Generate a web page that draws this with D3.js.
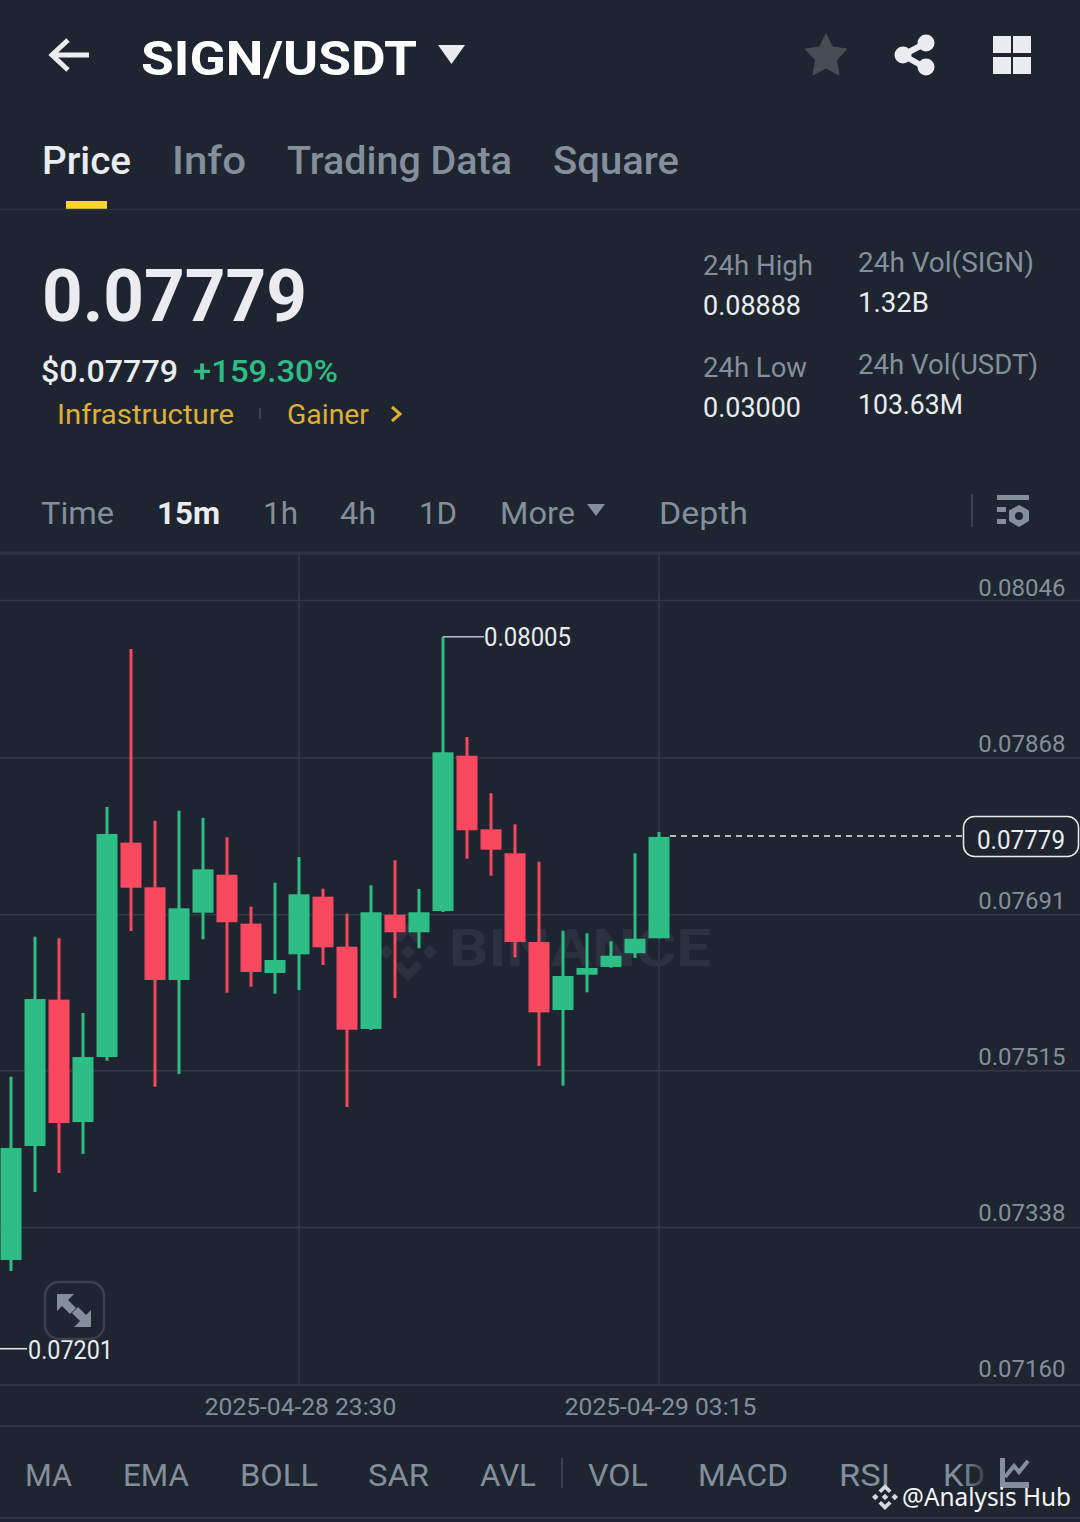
<!DOCTYPE html>
<html><head><meta charset="utf-8">
<script src="https://cdn.jsdelivr.net/npm/d3@7"></script>
<style>
html,body{margin:0;padding:0;background:#1e2530;overflow:hidden}
svg{display:block}
text{font-family:Roboto,"Noto Sans",sans-serif}
</style></head><body>
<div id="chart"></div>
<script>
const times=["2025-04-28 20:30","2025-04-28 20:45","2025-04-28 21:00","2025-04-28 21:15","2025-04-28 21:30","2025-04-28 21:45","2025-04-28 22:00","2025-04-28 22:15","2025-04-28 22:30","2025-04-28 22:45","2025-04-28 23:00","2025-04-28 23:15","2025-04-28 23:30","2025-04-28 23:45","2025-04-29 00:00","2025-04-29 00:15","2025-04-29 00:30","2025-04-29 00:45","2025-04-29 01:00","2025-04-29 01:15","2025-04-29 01:30","2025-04-29 01:45","2025-04-29 02:00","2025-04-29 02:15","2025-04-29 02:30","2025-04-29 02:45","2025-04-29 03:00","2025-04-29 03:15"];
const opens=[0.073012,0.074299,0.075952,0.074570,0.075304,0.077725,0.077221,0.076174,0.076934,0.077363,0.076810,0.076253,0.076464,0.077115,0.076550,0.075621,0.076911,0.076713,0.076953,0.078707,0.077876,0.077605,0.076603,0.075835,0.076234,0.076321,0.076476,0.076645];
const highs=[0.075082,0.076663,0.076645,0.075801,0.078128,0.079912,0.077973,0.078086,0.078004,0.077786,0.077002,0.077273,0.077563,0.077205,0.076923,0.077244,0.077526,0.077202,0.080050,0.078918,0.078283,0.077932,0.077510,0.076731,0.076701,0.076611,0.077605,0.077846];
const lows=[0.072888,0.073780,0.073994,0.074209,0.075263,0.076727,0.074969,0.075112,0.076634,0.076031,0.076098,0.076019,0.076061,0.076343,0.074740,0.075609,0.075971,0.076532,0.076942,0.077544,0.077352,0.076430,0.075203,0.074980,0.076035,0.076313,0.076423,0.076645];
const closes=[0.074277,0.075959,0.074559,0.075304,0.077823,0.077216,0.076174,0.076984,0.077424,0.076826,0.076264,0.076400,0.077142,0.076543,0.075613,0.076939,0.076713,0.076939,0.078746,0.077865,0.077646,0.076603,0.075809,0.076219,0.076310,0.076448,0.076640,0.077790];
const priceTicks=[0.08046,0.07868,0.07691,0.07515,0.07338,0.07160];
const timeTicks=["2025-04-28 23:30","2025-04-29 03:15"];
const lastPrice=0.07779, peakPrice=0.08005, troughPrice=0.07201;

const W=1080,H=1522;
const C={bg:"#1e2530",grid:"#333a46",line:"#2d343f",up:"#2ebd85",down:"#f84960",muted:"#848e9c",white:"#eaecef",yellow:"#fcd535",gold:"#dfae35",star:"#474d57"};
const parse=d3.timeParse("%Y-%m-%d %H:%M");
const svg=d3.select("#chart").append("svg").attr("width",W).attr("height",H).attr("viewBox",[0,0,W,H]);
svg.append("rect").attr("width",W).attr("height",H).attr("fill",C.bg);

function label(x,y,s,size,fill,weight,width,anchor){
  const t=svg.append("text").attr("x",x-1).attr("y",y).text(s).attr("font-size",size).attr("fill",fill).attr("font-weight",weight||400).attr("text-anchor",anchor||"start");
  if(width) t.attr("textLength",width+1).attr("lengthAdjust","spacingAndGlyphs");
  return t;
}
function hr(y,w,c){svg.append("line").attr("x1",0).attr("x2",W).attr("y1",y).attr("y2",y).attr("stroke",c||C.line).attr("stroke-width",w||1.5);}
function binanceLogo(cx,cy,R,fill){
  const pts=[
    [[0,-1],[.5,-.5],[.3,-.3],[0,-.6],[-.3,-.3],[-.5,-.5]],
    [[0,1],[.5,.5],[.3,.3],[0,.6],[-.3,.3],[-.5,.5]],
    [[-1,0],[-.75,-.25],[-.5,0],[-.75,.25]],
    [[1,0],[.75,-.25],[.5,0],[.75,.25]],
    [[0,-.25],[.25,0],[0,.25],[-.25,0]]
  ];
  svg.append("g").attr("fill",fill).selectAll("path").data(pts).join("path")
    .attr("d",p=>"M"+p.map(q=>`${cx+q[0]*R} ${cy+q[1]*R}`).join("L")+"Z");
}

// header
svg.append("path").attr("d","M89 55H53M68 40L52 55L68 70").attr("fill","none").attr("stroke",C.white).attr("stroke-width",5);
label(142,75,"SIGN/USDT",49,"#fff",700,275);
svg.append("path").attr("d","M438 45H465L451.5 64Z").attr("fill",C.white);
svg.append("path").attr("d","M826 34L832.5 47L847 49L836.5 60L839 75L826 68L813 75L815.5 60L805 49L819.5 47Z").attr("fill",C.star).attr("stroke",C.star).attr("stroke-width",1).attr("stroke-linejoin","round");
svg.append("path").attr("d","M926 43L903 55L926 68").attr("fill","none").attr("stroke",C.white).attr("stroke-width",6);
[[926,43,8.5],[903,55,8.5],[926,67,8.5]].forEach(c=>svg.append("circle").attr("cx",c[0]).attr("cy",c[1]).attr("r",c[2]).attr("fill",C.white));
[[993,36],[1013,36],[993,57],[1013,57]].forEach(p=>svg.append("rect").attr("x",p[0]).attr("y",p[1]).attr("width",18).attr("height",17).attr("fill",C.white));

// tabs
label(43,174,"Price",38,C.white,500,88);
label(173,174,"Info",38,C.muted,500,73);
label(288,174,"Trading Data",38,C.muted,500,224);
label(554,174,"Square",38,C.muted,500,125);
svg.append("rect").attr("x",66).attr("y",201).attr("width",41).attr("height",8).attr("fill",C.yellow);
hr(209.5,1.5);

// stats
label(43,321,"0.07779",72,C.white,700,264);
label(42,382,"$0.07779",32,C.white,500,136);
label(194,382,"+159.30%",32,C.up,500,144);
label(58,424,"Infrastructure",28,C.gold,400,176);
svg.append("line").attr("x1",260).attr("x2",260).attr("y1",408).attr("y2",419).attr("stroke","#3a414d").attr("stroke-width",2);
label(288,424,"Gainer",28,C.gold,400,81);
svg.append("path").attr("d","M392 407L400 414L392 421").attr("fill","none").attr("stroke",C.gold).attr("stroke-width",3);
label(704,275,"24h High",28,C.muted,400,109);
label(704,315,"0.08888",27,C.white,400,97);
label(859,272,"24h Vol(SIGN)",28,C.muted,400,175);
label(859,312,"1.32B",27,C.white,400,70);
label(704,377,"24h Low",28,C.muted,400,103);
label(704,417,"0.03000",27,C.white,400,97);
label(859,374,"24h Vol(USDT)",28,C.muted,400,179);
label(859,414,"103.63M",27,C.white,400,104);

// interval bar
[["Time",42,72],["1h",264,34],["4h",341,35],["1D",420,37],["More",501,74],["Depth",660,88]].forEach(d=>label(d[1],524,d[0],32,C.muted,400,d[2]));
label(158,524,"15m",32,C.white,700,62);
svg.append("path").attr("d","M587 504H605L596 516Z").attr("fill",C.muted);
svg.append("line").attr("x1",972).attr("x2",972).attr("y1",494).attr("y2",527).attr("stroke","#3a414d").attr("stroke-width",2);
svg.append("rect").attr("x",997).attr("y",495).attr("width",32).attr("height",5).attr("fill",C.muted);
svg.append("rect").attr("x",997).attr("y",507).attr("width",9).attr("height",5).attr("fill",C.muted);
svg.append("rect").attr("x",997).attr("y",519).attr("width",9).attr("height",5).attr("fill",C.muted);
svg.append("path").attr("d","M1019 505L1029 510.5V521L1019 527L1009 521V510.5Z").attr("fill",C.muted);
svg.append("circle").attr("cx",1019).attr("cy",516).attr("r",4).attr("fill",C.bg);
hr(553,3);

// scales
const x=d3.scaleTime().domain([parse(times[0]),parse(times[times.length-1])]).range([11,659]);
const y=d3.scaleLinear().domain([priceTicks[5],priceTicks[0]]).range([1385,600.5]);

// grid and axes
const xAxis=d3.axisBottom(x).tickValues(timeTicks.map(parse)).tickFormat(d3.timeFormat("%Y-%m-%d %H:%M")).tickSizeOuter(0).tickSize(0);
const gx=svg.append("g").attr("transform","translate(0,1385)").call(xAxis);
gx.select(".domain").remove();
gx.selectAll("text").attr("x",1).attr("y",30).attr("dy",0).attr("font-size",24.6).attr("fill",C.muted).attr("font-family","Roboto,sans-serif");
gx.selectAll(".tick").append("line").attr("x1",-0.5).attr("x2",-0.5).attr("y1",0).attr("y2",-832).attr("stroke",C.grid).attr("stroke-width",1.5);

const yAxis=d3.axisRight(y).tickValues(priceTicks).tickFormat(d3.format(".5f")).tickSize(W).tickSizeOuter(0);
const gy=svg.append("g").attr("transform","translate(0,-0.5)").call(yAxis);
gy.select(".domain").remove();
gy.selectAll("line").attr("stroke",C.grid).attr("stroke-width",1.5);
gy.selectAll("text").attr("x",1065.5).attr("text-anchor","end").attr("dy",0).attr("font-size",24).attr("fill",C.muted).attr("font-family","Roboto,sans-serif")
  .attr("y",d=>d===priceTicks[0]?-5:(d===priceTicks[5]?-8.5:-6));

hr(1426,2);hr(1518,2);

// watermark
label(450,966,"BINANCE",52,"#2b323e",700,261);
binanceLogo(408,952,29,"#2b323e");

// candles
const candles=times.map((t,i)=>({t:parse(t),o:opens[i],h:highs[i],l:lows[i],c:closes[i]}));
const g=svg.append("g").selectAll("g").data(candles).join("g").attr("fill",d=>d.c>=d.o?C.up:C.down);
g.append("rect").attr("x",d=>x(d.t)-1.5).attr("width",3).attr("y",d=>y(d.h)).attr("height",d=>y(d.l)-y(d.h));
g.append("rect").attr("x",d=>x(d.t)-10.5).attr("width",21).attr("y",d=>y(Math.max(d.o,d.c))).attr("height",d=>Math.abs(y(d.o)-y(d.c)));

// peak & trough markers
const peakX=x(parse(times[18]));
svg.append("line").attr("x1",peakX).attr("x2",484).attr("y1",y(peakPrice)).attr("y2",y(peakPrice)).attr("stroke","#b7bdc6").attr("stroke-width",1.5);
label(485,y(peakPrice)+9.5,d3.format(".5f")(peakPrice),25,C.white,400,86);
svg.append("line").attr("x1",0).attr("x2",27).attr("y1",y(troughPrice)).attr("y2",y(troughPrice)).attr("stroke",C.white).attr("stroke-width",1.5);
label(29,y(troughPrice)+10,d3.format(".5f")(troughPrice),25,C.white,400,84);

// last price
svg.append("line").attr("x1",670).attr("x2",963).attr("y1",y(lastPrice)-1).attr("y2",y(lastPrice)-1).attr("stroke",C.white).attr("stroke-width",1.5).attr("stroke-dasharray","6 5");
svg.append("rect").attr("x",963.5).attr("y",816.5).attr("width",115).attr("height",40).attr("rx",11).attr("fill",C.bg).attr("stroke",C.white).attr("stroke-width",1.5);
label(978,849,d3.format(".5f")(lastPrice),25,C.white,400,87);

// expand button
svg.append("rect").attr("x",45).attr("y",1282).attr("width",59).attr("height",57).attr("rx",14).attr("fill","none").attr("stroke","#3a414d").attr("stroke-width",2.5);
svg.append("path").attr("d","M57 1294H74L68 1300L76 1308L70 1314L62 1306L57 1311ZM91 1327H74L80 1321L72 1313L78 1307L86 1315L91 1310Z").attr("fill",C.muted);

// indicators
[["MA",26,46],["EMA",124,65],["BOLL",241,77],["SAR",369,60],["AVL",481,55],["VOL",589,59],["MACD",699,89],["RSI",840,50],["KD",944,41]].forEach(d=>label(d[1],1486,d[0],32,C.muted,400,d[2]));
svg.append("line").attr("x1",562).attr("x2",562).attr("y1",1458).attr("y2",1488).attr("stroke","#3a414d").attr("stroke-width",2);
const defs=svg.append("defs").append("linearGradient").attr("id","fade");
defs.append("stop").attr("offset",0).attr("stop-color",C.bg).attr("stop-opacity",0);
defs.append("stop").attr("offset",1).attr("stop-color",C.bg).attr("stop-opacity",1);
svg.append("rect").attr("x",962).attr("y",1456).attr("width",30).attr("height",34).attr("fill","url(#fade)");
svg.append("path").attr("d","M1000 1458H1005V1482H1029V1488H1000Z").attr("fill",C.muted);
svg.append("path").attr("d","M1005 1477L1014 1466L1019 1472L1028 1461").attr("fill","none").attr("stroke",C.muted).attr("stroke-width",4);

// credit
binanceLogo(885,1497,13,"#d5d8dc");
label(903,1506,"@Analysis Hub",26,"#f5f5f5",400,168).style("font-family",'"Noto Sans",sans-serif');
</script>
</body></html>
